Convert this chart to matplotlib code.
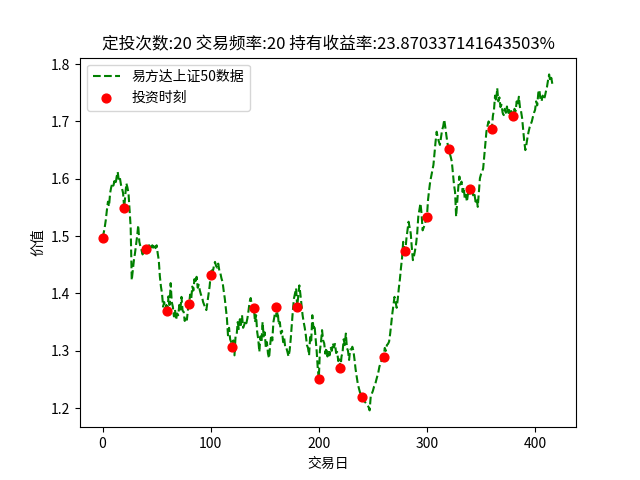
import matplotlib
matplotlib.use("Agg")
import matplotlib.pyplot as plt
import numpy as np

plt.rcParams['font.family'] = ['Noto Sans CJK SC', 'DejaVu Sans']
plt.rcParams['axes.unicode_minus'] = False

values = [
    1.497, 1.505, 1.515, 1.528, 1.545, 1.560, 1.552, 1.575, 1.585, 1.592,
    1.588, 1.596, 1.590, 1.603, 1.612, 1.598, 1.602, 1.590, 1.583, 1.575,
    1.549, 1.570, 1.592, 1.585, 1.575, 1.545, 1.516, 1.423, 1.440, 1.458,
    1.470, 1.485, 1.500, 1.519, 1.490, 1.482, 1.476, 1.468, 1.472, 1.470,
    1.477, 1.470, 1.478, 1.484, 1.482, 1.476, 1.484, 1.480, 1.486, 1.479,
    1.484, 1.470, 1.458, 1.430, 1.412, 1.400, 1.377, 1.385, 1.372, 1.380,
    1.369, 1.395, 1.380, 1.418, 1.385, 1.377, 1.360, 1.372, 1.354, 1.365,
    1.362, 1.380, 1.372, 1.394, 1.370, 1.368, 1.352, 1.360, 1.354, 1.372,
    1.381, 1.398, 1.390, 1.412, 1.405, 1.425, 1.418, 1.429, 1.410, 1.415,
    1.405, 1.398, 1.394, 1.385, 1.380, 1.375, 1.371, 1.385, 1.398, 1.412,
    1.432, 1.444, 1.438, 1.448, 1.455, 1.448, 1.445, 1.452, 1.440, 1.435,
    1.426, 1.420, 1.405, 1.392, 1.375, 1.357, 1.327, 1.340, 1.320, 1.315,
    1.307, 1.318, 1.292, 1.325, 1.327, 1.350, 1.338, 1.355, 1.345, 1.362,
    1.340, 1.345, 1.352, 1.348, 1.357, 1.370, 1.385, 1.392, 1.380, 1.370,
    1.374, 1.350, 1.362, 1.333, 1.320, 1.298, 1.325, 1.315, 1.350, 1.325,
    1.332, 1.305, 1.315, 1.295, 1.287, 1.310, 1.327, 1.318, 1.350, 1.360,
    1.377, 1.360, 1.368, 1.345, 1.350, 1.330, 1.335, 1.315, 1.322, 1.305,
    1.305, 1.298, 1.290, 1.300, 1.320, 1.345, 1.370, 1.391, 1.400, 1.409,
    1.377, 1.395, 1.414, 1.398, 1.380, 1.362, 1.350, 1.340, 1.327, 1.310,
    1.305, 1.292, 1.325, 1.318, 1.362, 1.340, 1.345, 1.322, 1.300, 1.270,
    1.251, 1.300, 1.315, 1.336, 1.318, 1.313, 1.295, 1.305, 1.290, 1.298,
    1.292, 1.305, 1.300, 1.313, 1.306, 1.312, 1.296, 1.298, 1.282, 1.285,
    1.270, 1.290, 1.298, 1.320, 1.310, 1.330, 1.305, 1.300, 1.284, 1.302,
    1.302, 1.307, 1.300, 1.285, 1.268, 1.255, 1.243, 1.235, 1.228, 1.222,
    1.219, 1.215, 1.212, 1.210, 1.208, 1.205, 1.202, 1.196, 1.220, 1.225,
    1.230, 1.237, 1.240, 1.248, 1.255, 1.262, 1.272, 1.278, 1.283, 1.286,
    1.289, 1.305, 1.300, 1.310, 1.312, 1.316, 1.330, 1.348, 1.365, 1.380,
    1.394, 1.385, 1.375, 1.390, 1.409, 1.425, 1.445, 1.462, 1.490, 1.480,
    1.474, 1.495, 1.510, 1.525, 1.515, 1.505, 1.480, 1.458, 1.465, 1.475,
    1.487, 1.505, 1.534, 1.545, 1.557, 1.540, 1.510, 1.515, 1.520, 1.528,
    1.534, 1.563, 1.580, 1.595, 1.605, 1.615, 1.624, 1.645, 1.665, 1.682,
    1.672, 1.665, 1.659, 1.672, 1.685, 1.691, 1.703, 1.690, 1.675, 1.662,
    1.652, 1.645, 1.638, 1.630, 1.610, 1.590, 1.577, 1.534, 1.560, 1.585,
    1.604, 1.590, 1.595, 1.577, 1.585, 1.565, 1.572, 1.560, 1.575, 1.570,
    1.582, 1.575, 1.580, 1.568, 1.572, 1.560, 1.565, 1.551, 1.575, 1.601,
    1.608, 1.612, 1.618, 1.640, 1.662, 1.682, 1.692, 1.700, 1.695, 1.690,
    1.687, 1.710, 1.720, 1.745, 1.735, 1.758, 1.735, 1.742, 1.725, 1.729,
    1.715, 1.711, 1.722, 1.715, 1.726, 1.712, 1.720, 1.710, 1.718, 1.712,
    1.710, 1.722, 1.718, 1.735, 1.728, 1.743, 1.725, 1.718, 1.706, 1.685,
    1.665, 1.650, 1.660, 1.672, 1.682, 1.690, 1.695, 1.700, 1.708, 1.715,
    1.720, 1.735, 1.728, 1.750, 1.755, 1.738, 1.735, 1.745, 1.738, 1.743,
    1.752, 1.760, 1.772, 1.782, 1.770, 1.776, 1.765, 1.767,
]
invest_freq = 20
invest_count = 20
invest_days = list(range(0, invest_freq * invest_count, invest_freq))

days = np.arange(len(values))
vals = np.array(values)
inv_vals = vals[invest_days]

fig, ax = plt.subplots(figsize=(6.4, 4.8), dpi=100)
ax.plot(days, vals, 'g--', label='易方达上证50数据')
ax.scatter(invest_days, inv_vals, color='r', s=40, zorder=3, label='投资时刻')
ax.set_title('定投次数:20 交易频率:20 持有收益率:23.870337141643503%')
ax.set_xlabel('交易日')
ax.set_ylabel('价值')
ax.legend(loc='upper left')
fig.savefig('out.png')
